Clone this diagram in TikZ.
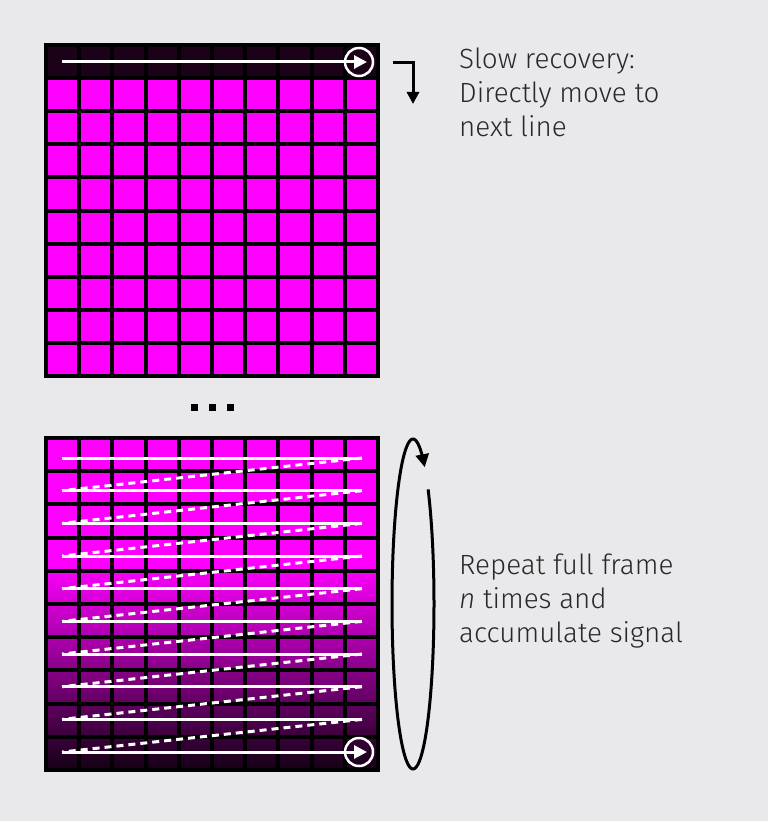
\documentclass[tikz,border=0pt]{standalone}
\usepackage{fontspec}
\setmainfont{Fira Sans}[UprightFont=* Light, ItalicFont=* Light Italic]
\usetikzlibrary{arrows.meta}
\definecolor{bg}{RGB}{233,233,235}
\definecolor{pix}{RGB}{255,0,255}
\definecolor{pixoff}{RGB}{28,2,24}
\definecolor{ink}{RGB}{40,40,40}
\pgfdeclareverticalshading{decay}{100bp}{color(0bp)=(pix!8!black); color(25bp)=(pix!8!black); color(56bp)=(pix); color(100bp)=(pix)}
\begin{document}
\begin{tikzpicture}[x=1pt,y=-1pt,
  cellgrid/.style={black, line width=4pt},
  scanline/.style={white, line width=3pt},
  retrace/.style={white, line width=3pt, dash pattern=on 7pt off 5pt},
  endring/.style={circle, draw=white, line width=2.5pt, minimum size=28pt, inner sep=0pt},
  dotsq/.style={fill=black, minimum size=7pt, inner sep=0pt},
  caption/.style={anchor=base west, align=left, inner sep=0pt, text=ink, font=\fontsize{27.8}{34}\selectfont}]
\fill[bg] (0,0) rectangle (768,821);
% single line frame
\fill[pixoff] (46,45) rectangle (378,78);
\fill[pix] (46,78) rectangle (378,376);
\foreach \i in {0,...,10}{
  \draw[cellgrid] ({46+33.2*\i},45) -- ({46+33.2*\i},376);
  \draw[cellgrid] (46,{45+33.1*\i}) -- (378,{45+33.1*\i});
}
\draw[cellgrid] (46,45) rectangle (378,376);
\node[endring] (topend) at (359,62) {};
\draw[scanline, -{Triangle[length=13pt,width=13pt]}] (62,62) -- (367,62);
\draw[line width=3pt, -{Triangle[length=12pt,width=12pt]}] (393,63) -| (413,104);
\node[caption] (slow) at (459,137) {Slow recovery:\\Directly move to\\next line};
% dots
\foreach \x [count=\k] in {194,212,230}
  \node[dotsq] (dot\k) at (\x,407) {};
% repeated frames
\shade[shading=decay] (46,438) rectangle (378,770);
\foreach \i in {0,...,10}{
  \draw[cellgrid] ({46+33.2*\i},438) -- ({46+33.2*\i},770);
  \draw[cellgrid] (46,{438+33.2*\i}) -- (378,{438+33.2*\i});
}
\draw[cellgrid] (46,438) rectangle (378,770);
\foreach \i in {0,...,8}{
  \draw[scanline] (62,{458+32.67*\i}) -- (362,{458+32.67*\i});
  \draw[retrace] (362,{458+32.67*\i}) -- (62,{458+32.67*(\i+1)});
}
\node[endring] (botend) at (359,752) {};
\draw[scanline, -{Triangle[length=13pt,width=13pt]}] (62,752) -- (367,752);
\draw[line width=3pt, -{Triangle[length=13pt,width=13pt]}]
  plot[domain=-44:304, samples=90, smooth] ({413+21*cos(\x)},{604+165*sin(\x)});
\node[caption] (repeat) at (459,642) {Repeat full frame\\\textit{n} times and\\accumulate signal};
\end{tikzpicture}
\end{document}
